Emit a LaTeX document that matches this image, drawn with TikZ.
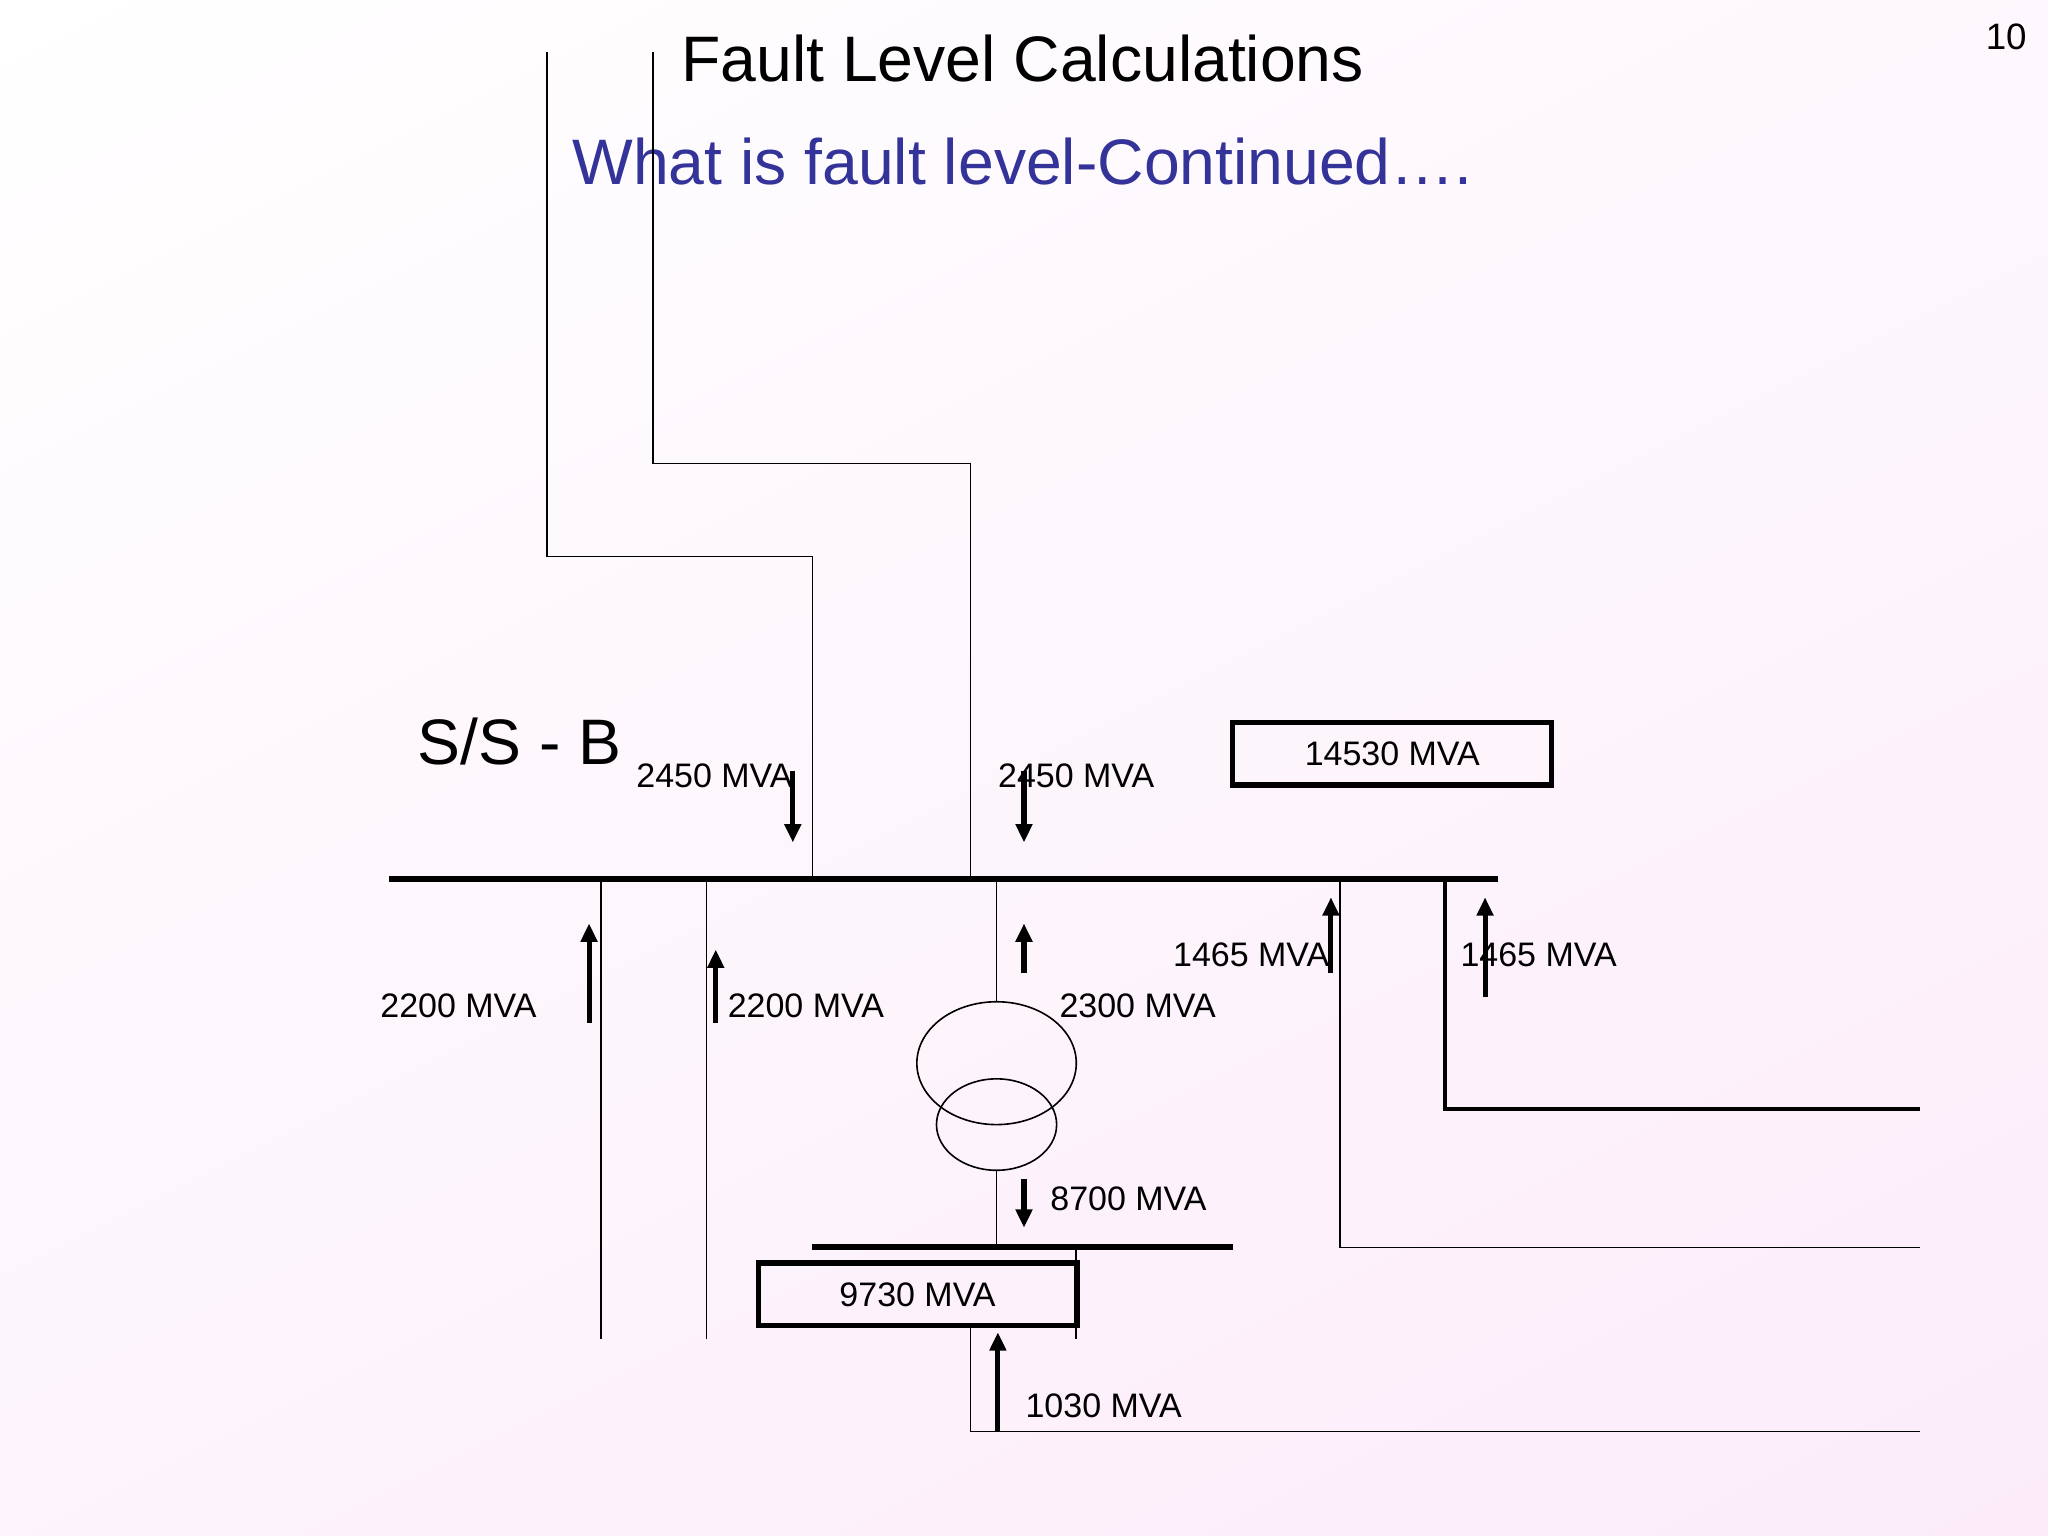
\documentclass[tikz,border=0pt]{standalone}
\usepackage{fontspec}
\setmainfont{Liberation Sans}
\usetikzlibrary{arrows.meta,shadings,shapes.geometric}
\definecolor{bgpink}{RGB}{252,236,250}
\definecolor{subblue}{RGB}{51,51,153}
\tikzset{
  wire/.style={line width=0.35pt},
  bus/.style={line width=1.3pt},
  flow/.style={line width=1.1pt,-{Triangle[length=4pt,width=3.5pt]}},
  lbl/.style={font=\fontsize{7.4}{8}\selectfont,inner sep=0pt},
  box/.style={draw,line width=1.1pt,minimum width=2.44cm,minimum height=0.48cm,inner sep=0pt,font=\fontsize{7.4}{8}\selectfont}
}
\begin{document}
\begin{tikzpicture}[x=0.01cm,y=-0.01cm]
\useasboundingbox (0,0) rectangle (1568,1176);
\shade[upper left=white,upper right=white!60!bgpink,lower left=white!40!bgpink,lower right=bgpink] (0,0) rectangle (1568,1176);
\node[font=\fontsize{14}{16}\selectfont] (title) at (783,45) {Fault Level Calculations};
\node[font=\fontsize{14}{16}\selectfont,text=subblue] (sub) at (783,124) {What is fault level-Continued….};
\node[font=\fontsize{8}{9}\selectfont] (pg) at (1536,28) {10};
\node[font=\fontsize{14}{16}\selectfont] (ssb) at (398,568) {S/S - B};
% feeders from top
\coordinate (a1) at (419,40); \coordinate (a2) at (419,426); \coordinate (a3) at (622,426); \coordinate (a4) at (622,673);
\coordinate (b1) at (500,40); \coordinate (b2) at (500,355); \coordinate (b3) at (743,355); \coordinate (b4) at (743,673);
\draw[wire] (a1)--(a2)--(a3)--(a4);
\draw[wire] (b1)--(b2)--(b3)--(b4);
% main bus
\coordinate (busL) at (298,673); \coordinate (busR) at (1147,673);
\draw[bus] (busL)--(busR);
% downward feeders
\draw[wire] (460,673)--(460,1025);
\draw[wire] (541,673)--(541,1025);
\draw[wire] (763,673)--(763,767);
\draw[wire] (1026,673)--(1026,955)--(1470,955);
\draw[line width=0.9pt] (1106,673)--(1106,849)--(1470,849);
% transformer
\node[draw,wire,ellipse,minimum width=1.22cm,minimum height=0.94cm,inner sep=0pt] (t1) at (763,814) {};
\draw[wire] (763,861) ellipse (46 and 35);
\coordinate (t2b) at (763,896);
\draw[wire] (t2b)--(763,955);
% lower bus
\draw[bus] (622,955)--(944,955);
\node[box] (b9730) at (702.5,991) {9730 MVA};
\draw[wire] (824,955)--(824,1025);
\draw[wire] (743,1015)--(743,1096)--(1470,1096);
\node[box] (b14530) at (1066,577) {14530 MVA};
% flow arrows
\draw[flow] (607,590)--(607,645); \node[lbl] (l1) at (547,594) {2450 MVA};
\draw[flow] (784,590)--(784,645); \node[lbl] (l2) at (824,594) {2450 MVA};
\draw[flow] (451,783)--(451,707); \node[lbl] (l3) at (351,770) {2200 MVA};
\draw[flow] (548,783)--(548,727); \node[lbl] (l4) at (617,770) {2200 MVA};
\draw[flow] (784,745)--(784,707); \node[lbl] (l5) at (871,770) {2300 MVA};
\draw[flow] (1019,745)--(1019,687); \node[lbl] (l6) at (958,731) {1465 MVA};
\draw[flow] (1137,763)--(1137,687); \node[lbl] (l7) at (1178,731) {1465 MVA};
\draw[flow] (784,903)--(784,940); \node[lbl] (l8) at (864,918) {8700 MVA};
\draw[flow] (764,1096)--(764,1020); \node[lbl] (l9) at (845,1076) {1030 MVA};
\end{tikzpicture}
\end{document}
